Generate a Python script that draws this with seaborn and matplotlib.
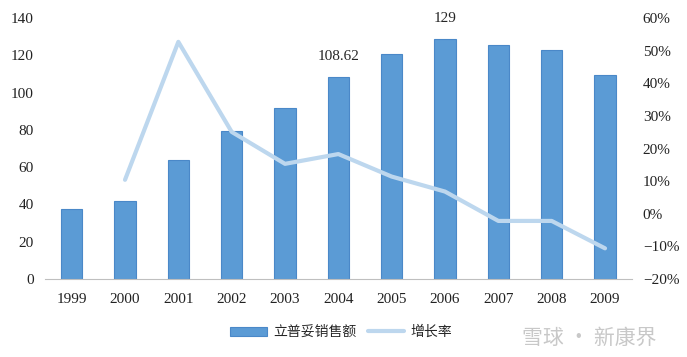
import numpy as np
import pandas as pd
from matplotlib import pyplot as plt
from matplotlib.ticker import PercentFormatter
import seaborn as sns

years = ["1999", "2000", "2001", "2002", "2003", "2004", "2005", "2006", "2007", "2008", "2009"]
sales = [37.6, 41.9, 63.9, 79.5, 91.9, 108.62, 120.9, 129, 125.7, 123.0, 109.6]
growth = [np.nan, 10.4, 52.7, 25.1, 15.3, 18.3, 11.4, 6.8, -2.2, -2.2, -10.6]  # percent
labelled = {"2004": "108.62", "2006": "129"}

sales_name = "立普妥销售额"
growth_name = "增长率"

df = pd.DataFrame({"year": years, "sales": sales, "growth": np.array(growth) / 100})
df["pos"] = np.arange(len(df))

sns.set_style("white")
plt.rcParams["font.family"] = ["Liberation Serif", "Noto Sans CJK SC", "DejaVu Sans"]

bar_color = "#5B9BD5"
line_color = "#BDD7EE"

fig = plt.figure(figsize=(6.87, 3.57), dpi=100)
ax = fig.add_axes([0.0655, 0.2185, 0.854, 0.731])
sns.barplot(data=df, x="year", y="sales", ax=ax, color=bar_color, width=0.4,
            edgecolor="#4A88C8", linewidth=0.8, saturation=1, label=sales_name)
ax.set_ylim(0, 140)
ax.set_yticks(range(0, 141, 20))
ax.set_xlim(-0.5, len(years) - 0.5)
ax.set_xlabel("")
ax.set_ylabel("")

for i, (yr, val) in enumerate(zip(years, sales)):
    if yr in labelled:
        ax.annotate(labelled[yr], (i, val), xytext=(0, 10), textcoords="offset points",
                    ha="center", va="bottom", fontsize=11)

ax2 = ax.twinx()
sns.lineplot(data=df, x="pos", y="growth", ax=ax2, color=line_color, linewidth=3,
             label=growth_name, legend=False)
ax2.set_ylim(-0.2, 0.6)
ax2.set_yticks(np.arange(-0.2, 0.61, 0.1))
ax2.yaxis.set_major_formatter(PercentFormatter(1.0, decimals=0))
ax2.set_ylabel("")
ax2.set_xlabel("")

for a in (ax, ax2):
    for s in ("top", "left", "right"):
        a.spines[s].set_visible(False)
    a.spines["bottom"].set_color("#BFBFBF")
    a.tick_params(length=0, labelsize=11, colors="#222222")
ax.tick_params(axis="y", pad=8)
ax.tick_params(axis="x", pad=10)
ax2.tick_params(axis="y", pad=8)
ax2.spines["bottom"].set_visible(False)

h1, l1 = ax.get_legend_handles_labels()
h2, l2 = ax2.get_legend_handles_labels()
leg = fig.legend(h1 + h2, l1 + l2, loc="center", bbox_to_anchor=(0.497, 0.07), ncol=2,
                 frameon=False, handlelength=2.6, handleheight=0.6, columnspacing=0.8,
                 handletextpad=0.5, prop={"family": ["Noto Sans CJK SC"], "size": 10})
ax.get_legend().remove() if ax.get_legend() else None

fig.text(0.955, 0.055, "雪球 · 新康界", ha="right", va="center", fontsize=15,
         color="#C8C8C8", family=["Noto Sans CJK SC"])

fig.savefig("out.png", dpi=100)
